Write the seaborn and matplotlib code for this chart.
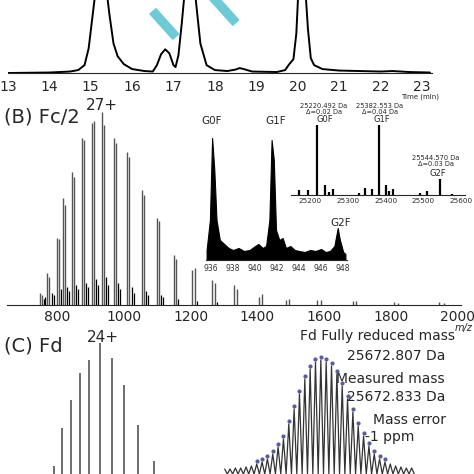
import matplotlib.pyplot as plt
import seaborn as sns
from matplotlib.patches import Rectangle

sns.set_style("white")
plt.rcParams['font.family'] = ['DejaVu Sans']

W = H = 474.0

# ---- (A) chromatogram ----
chrom_time = [13.0, 14.0, 14.5, 14.7, 14.85, 14.95, 15.05, 15.15, 15.25, 15.35, 15.45, 15.55, 15.65,
              15.8, 16.0, 16.3, 16.5, 16.6, 16.7, 16.8, 16.9, 17.0, 17.05, 17.12, 17.2, 17.3, 17.45,
              17.55, 17.65, 17.8, 18.0, 18.3, 18.5, 18.6, 18.7, 18.9, 19.5, 19.7, 19.8, 19.9, 19.97,
              20.05, 20.15, 20.25, 20.32, 20.4, 20.6, 21.0, 21.5, 22.0, 22.3, 22.7, 23.2]
chrom_int = [0, 0.5, 1.5, 3, 8, 25, 60, 95, 110, 95, 60, 30, 17,
             9, 4, 2, 1.5, 8, 19, 24, 20, 8, 6, 18, 50, 95, 110,
             70, 30, 8, 3, 2, 3.5, 5, 4, 1.5, 1, 3, 9, 14, 40,
             110, 110, 45, 15, 8, 4, 2.5, 2, 1.5, 2, 1, 0.5]
time_ticks = list(range(13, 24))

# ---- (B) Fc/2 charge envelope ----
g0f_mz = [748, 770, 800, 818, 845, 875, 905, 935, 970, 1010, 1055, 1100, 1150, 1205, 1265, 1330,
          1405, 1485, 1580, 1685, 1810, 1945]
g0f_int = [12, 32, 67, 107, 133, 167, 182, 193, 167, 153, 115, 87, 50, 35, 25, 20, 8, 5, 5, 4, 3, 3]
g1f_mz = [754, 776, 806, 824, 851, 881, 911, 941, 976, 1016, 1061, 1106, 1157, 1212, 1273, 1338,
          1414, 1495, 1590, 1696, 1822, 1958]
g1f_int = [10, 28, 66, 100, 128, 165, 184, 180, 162, 148, 110, 84, 46, 37, 22, 16, 11, 6, 5, 4, 2, 2]
minor_mz = [760, 764, 784, 790, 812, 830, 836, 858, 864, 888, 894, 918, 924, 948, 954, 984, 990,
            1024, 1030, 1066, 1072, 1112, 1118, 1162, 1220, 1280]
minor_int = [6, 8, 12, 10, 16, 18, 14, 20, 16, 22, 18, 26, 20, 28, 20, 22, 16, 18, 12, 14, 10, 10,
             8, 6, 4, 3]

# zoomed 27+ charge state
zoom_mz = [935.6, 935.9, 936.1, 936.3, 936.5, 936.8, 937.2, 937.6, 938.0, 938.5, 939.0, 939.5, 940.0,
           940.3, 940.7, 941.0, 941.3, 941.5, 941.7, 941.9, 942.2, 942.5, 942.8, 943.2, 943.6, 944.0,
           944.5, 945.0, 945.5, 946.0, 946.4, 946.8, 947.2, 947.5, 947.7, 948.0, 948.2]
zoom_int = [10, 40, 122, 90, 40, 20, 16, 12, 10, 12, 9, 10, 14, 16, 12, 14, 40, 120, 100, 30, 20, 22,
            12, 14, 10, 9, 8, 10, 9, 11, 8, 9, 14, 32, 20, 8, 6]
zoom_ticks = [936, 938, 940, 942, 944, 946, 948]

# deconvolved masses
decon_mass = [25170, 25195, 25220, 25240, 25250, 25260, 25330, 25345, 25365, 25382, 25400, 25410,
              25420, 25490, 25510, 25544, 25575]
decon_int = [5, 5, 70, 10, 3, 6, 2, 7, 6, 70, 10, 4, 6, 2, 4, 16, 1]
decon_ticks = [25200, 25300, 25400, 25500, 25600]

# ---- (C) Fd ----
fd_mz = [886, 917, 952, 988, 1028, 1071, 1118, 1168, 1224, 1285]
fd_int = [14, 52, 80, 107, 120, 137, 122, 95, 55, 19]
iso_peaks = [5, 5, 6, 6, 7, 8, 10, 12, 15, 20, 27, 35, 50, 65, 80, 95, 105, 112, 114, 112, 108, 100,
             88, 75, 62, 48, 38, 28, 20, 15, 12, 10, 8, 7, 6, 6]

fig = plt.figure(figsize=(4.74, 4.74), dpi=100)


def box(left, top, width, height):
    return [left / W, 1 - (top + height) / H, width / W, height / H]


def txt(x, y, s, **kw):
    fig.text(x / W, 1 - y / H, s, **kw)


def clean(ax, bottom=True):
    for side in ['top', 'right', 'left']:
        ax.spines[side].set_visible(False)
    ax.spines['bottom'].set_visible(bottom)
    ax.set_yticks([])
    ax.set_xlabel('')
    ax.set_ylabel('')
    ax.patch.set_alpha(0)


# A
axA = fig.add_axes(box(8, 0, 424, 74))
sns.lineplot(x=chrom_time, y=chrom_int, color='black', lw=1.4, ax=axA)
axA.set_xlim(13, 23.25)
axA.set_ylim(-1, 74)
axA.set_xticks(time_ticks)
axA.tick_params(axis='x', direction='out', length=4, labelsize=10, pad=1)
clean(axA)
axA.spines['bottom'].set_position(('data', 0))
for (cx, cy, ang) in [(150, 14, -48), (210, 0, -48)]:
    fig.patches.append(Rectangle((cx / W, 1 - cy / H), 34 / W, 8 / H, angle=ang,
                                 transform=fig.transFigure, color='#6ecad6'))

# B main
axB = fig.add_axes(box(7, 105, 454, 200))
axB.vlines(minor_mz, 0, minor_int, color='black', lw=0.9)
axB.vlines(g0f_mz, 0, g0f_int, color='#555555', lw=1.0)
axB.vlines(g1f_mz, 0, g1f_int, color='#555555', lw=1.0)
axB.set_xlim(650, 2010)
axB.set_ylim(0, 200)
axB.set_xticks(range(800, 2001, 200))
axB.set_xticks(range(700, 2001, 100), minor=True)
axB.tick_params(axis='x', which='both', direction='inout', length=5, labelsize=10, pad=1)
clean(axB)

# inset zoom
axZ = fig.add_axes(box(205.5, 130, 141, 130))
axZ.fill_between(zoom_mz, 0, zoom_int, color='black', lw=0.8)
axZ.set_xlim(935.5, 948.3)
axZ.set_ylim(0, 130)
axZ.set_xticks(zoom_ticks)
axZ.tick_params(axis='x', direction='out', length=2, labelsize=5.5, pad=1, colors='#333333')
clean(axZ)

# inset deconvolution
axD = fig.add_axes(box(291, 115, 174, 80))
axD.vlines(decon_mass, 0, decon_int, color='black', lw=1.6)
axD.set_xlim(25150, 25610)
axD.set_ylim(0, 80)
axD.set_xticks(decon_ticks)
axD.tick_params(axis='x', direction='inout', length=3, labelsize=5.2, pad=1)
clean(axD)

# C bars
axC = fig.add_axes(box(0, 330, 474, 150))
axC.vlines(fd_mz, 0, fd_int, color='#555555', lw=1.2)
axC.set_xlim(670, 2566)
axC.set_ylim(0, 150)
axC.set_xticks([])
clean(axC, bottom=False)

# C isotope envelope
iso_x, iso_y = [], []
for i, h in enumerate(iso_peaks):
    iso_x += [i, i + 0.5]
    iso_y += [h, 0]
axI = fig.add_axes(box(222, 352, 195, 122))
sns.lineplot(x=iso_x, y=iso_y, color='#333333', lw=0.9, sort=False, ax=axI)
axI.scatter(range(6, 31), [h + 3 for h in iso_peaks[6:31]], s=4, color='#5a5aa0', zorder=3)
axI.set_xlim(-0.5, 36)
axI.set_ylim(0, 122)
axI.set_xticks([])
clean(axI, bottom=False)

# text
txt(420, 99, 'Time (min)', fontsize=5, ha='center')
txt(4, 117, '(B) Fc/2', fontsize=14, va='center')
txt(102, 106, '27+', fontsize=11, ha='center', va='center')
txt(212, 124, 'G0F', fontsize=7.5, ha='center')
txt(276, 124, 'G1F', fontsize=7.5, ha='center')
txt(341, 226, 'G2F', fontsize=7.5, ha='center')
for x0, lines in [(324, ['25220.492 Da', 'Δ=0.02 Da']), (380, ['25382.553 Da', 'Δ=0.04 Da'])]:
    txt(x0, 108, lines[0], fontsize=4.8, ha='center')
    txt(x0, 114, lines[1], fontsize=4.8, ha='center')
txt(325, 122, 'G0F', fontsize=6, ha='center')
txt(382, 122, 'G1F', fontsize=6, ha='center')
txt(436, 160, '25544.570 Da', fontsize=4.8, ha='center')
txt(436, 166, 'Δ=0.03 Da', fontsize=4.8, ha='center')
txt(438, 176, 'G2F', fontsize=6, ha='center')
txt(464, 331, 'm/z', fontsize=7, style='italic', ha='center')
txt(4, 346, '(C) Fd', fontsize=14, va='center')
txt(103, 337, '24+', fontsize=11, ha='center', va='center')
txt(455, 340, 'Fd Fully reduced mass', fontsize=10, ha='right')
txt(445, 360, '25672.807 Da', fontsize=10, ha='right')
txt(445, 383, 'Measured mass', fontsize=10, ha='right')
txt(445, 401, '25672.833 Da', fontsize=10, ha='right')
txt(446, 424, 'Mass error', fontsize=10, ha='right')
txt(365, 441, '-1 ppm', fontsize=10, ha='left')

fig.savefig('out.png', dpi=100)
